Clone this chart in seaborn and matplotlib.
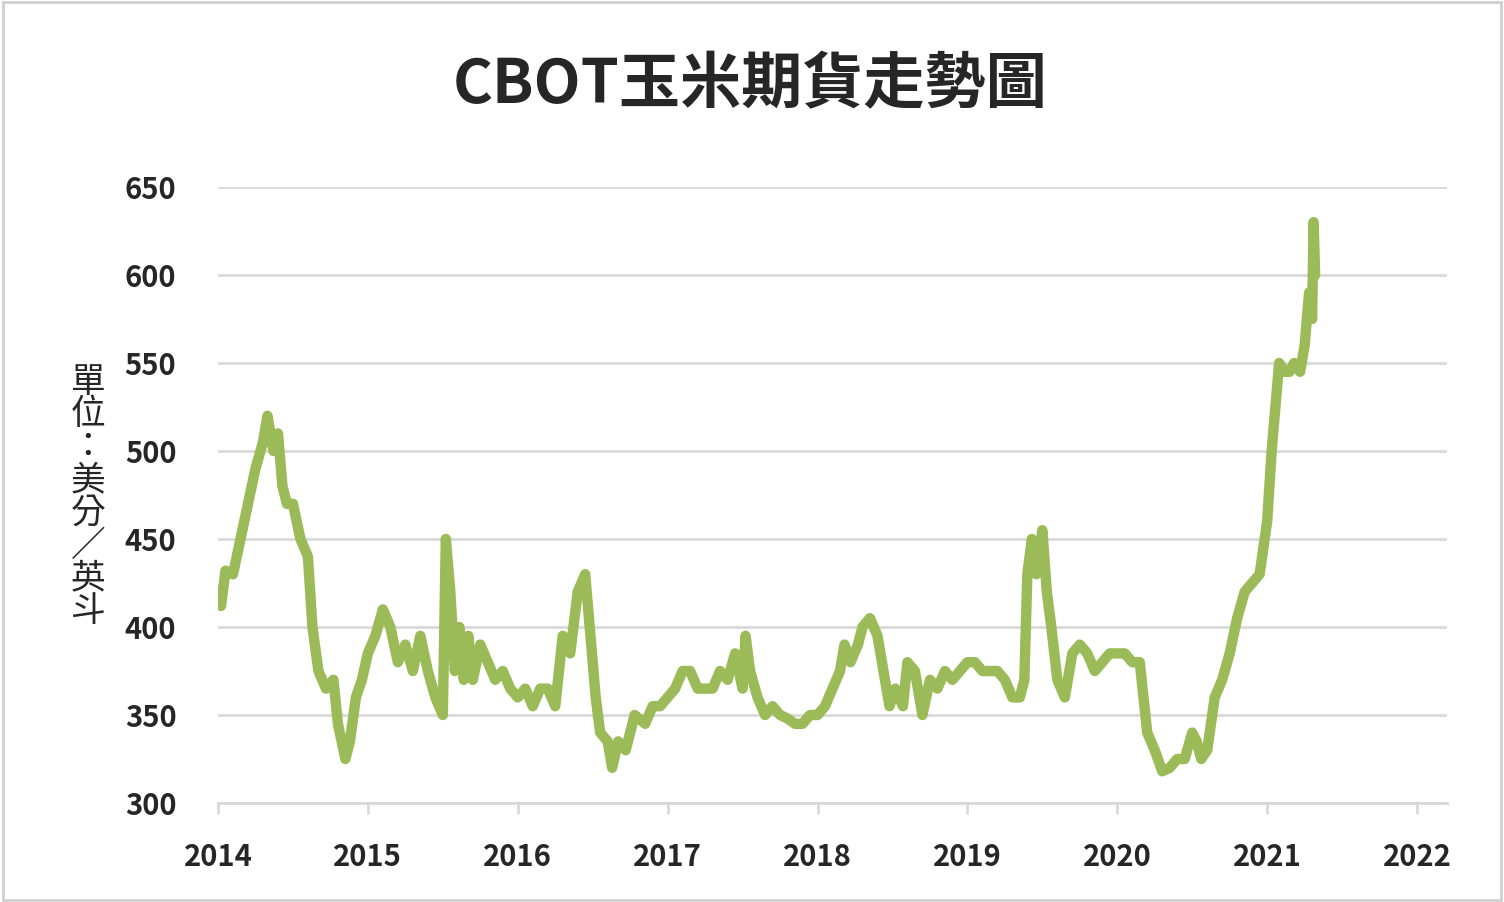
import matplotlib
matplotlib.use("Agg")
import matplotlib.pyplot as plt
import seaborn as sns
import pandas as pd

years = [2014.0,2014.02,2014.05,2014.1,2014.15,2014.2,2014.25,2014.3,2014.33,2014.37,2014.4,2014.43,2014.46,2014.5,2014.55,2014.6,2014.63,2014.67,2014.72,2014.77,2014.8,2014.85,2014.88,2014.92,2014.96,
 2015.0,2015.05,2015.1,2015.15,2015.2,2015.25,2015.3,2015.35,2015.4,2015.45,2015.5,2015.52,2015.55,2015.58,2015.61,2015.64,2015.67,2015.7,2015.75,2015.8,2015.85,2015.9,2015.95,
 2016.0,2016.05,2016.1,2016.15,2016.2,2016.25,2016.3,2016.35,2016.4,2016.45,2016.48,2016.52,2016.55,2016.6,2016.63,2016.67,2016.72,2016.78,2016.85,2016.9,2016.95,
 2017.0,2017.05,2017.1,2017.15,2017.2,2017.25,2017.3,2017.35,2017.4,2017.45,2017.5,2017.52,2017.55,2017.6,2017.65,2017.7,2017.75,2017.8,2017.85,2017.9,2017.95,
 2018.0,2018.05,2018.1,2018.15,2018.18,2018.22,2018.27,2018.3,2018.35,2018.4,2018.45,2018.48,2018.52,2018.57,2018.6,2018.65,2018.7,2018.75,2018.8,2018.85,2018.9,2018.95,
 2019.0,2019.05,2019.1,2019.15,2019.2,2019.25,2019.3,2019.35,2019.38,2019.4,2019.43,2019.46,2019.5,2019.53,2019.56,2019.6,2019.65,2019.7,2019.75,2019.8,2019.85,2019.9,2019.95,
 2020.0,2020.05,2020.1,2020.15,2020.2,2020.25,2020.3,2020.35,2020.4,2020.45,2020.5,2020.53,2020.56,2020.6,2020.65,2020.7,2020.75,2020.8,2020.85,2020.9,2020.95,
 2021.0,2021.03,2021.06,2021.08,2021.12,2021.15,2021.18,2021.22,2021.25,2021.28,2021.3,2021.31,2021.32]
prices = [420,412,432,430,450,470,490,505,520,500,510,480,470,470,450,440,400,375,365,370,345,325,335,360,370,
 385,395,410,400,380,390,375,395,375,360,350,450,420,375,400,370,395,370,390,380,370,375,365,
 360,365,355,365,365,355,395,385,420,430,400,360,340,335,320,335,330,350,345,355,355,
 360,365,375,375,365,365,365,375,370,385,365,395,375,360,350,355,350,348,345,345,350,
 350,355,365,375,390,380,390,400,405,395,370,355,365,355,380,375,350,370,365,375,370,375,
 380,380,375,375,375,370,360,360,370,430,450,430,455,420,400,370,360,385,390,385,375,380,385,
 385,385,380,380,340,330,318,320,325,325,340,335,325,330,360,370,385,405,420,425,430,
 460,500,530,550,545,545,550,545,560,590,575,630,600]
xticks = list(range(2014, 2023))
yticks = list(range(300, 651, 50))

sns.set_style("white")
plt.rcParams['font.family'] = ['Noto Sans CJK TC', 'DejaVu Sans']

fig = plt.figure(figsize=(15.04, 9.02), dpi=100)
ax = fig.add_axes([218/1504, 1-803/902, (1447-218)/1504, (803-187)/902])
df = pd.DataFrame({"year": years, "price": prices})
sns.lineplot(data=df, x="year", y="price", ax=ax, color="#9BBB59", linewidth=7.5,
             solid_joinstyle='round', solid_capstyle='round')
ax.set_xlim(2014, 2022.2)
ax.set_ylim(300, 650)
ax.set_xticks(xticks)
ax.set_xticklabels([str(t) for t in xticks], fontsize=21, fontweight='bold')
ax.set_yticks(yticks)
ax.set_yticklabels([str(t) for t in yticks], fontsize=21, fontweight='bold')
ax.yaxis.grid(True, color="#D9D9D9", linewidth=2)
for s in ["top", "right", "left"]:
    ax.spines[s].set_visible(False)
ax.spines["bottom"].set_color("#D9D9D9")
ax.spines["bottom"].set_linewidth(2)
ax.tick_params(axis='x', length=8, color="#D9D9D9", width=2, pad=20, direction='out', bottom=True)
ax.tick_params(axis='y', length=0, pad=30)
ax.set_xlabel("")
ax.set_ylabel("")
fig.text(88/1504, 1-497/902, "單\n位\n：\n美\n分\n／\n英\n斗", fontsize=25, ha='center', va='center', linespacing=0.92)
fig.text(750/1504, 1-85/902, "CBOT玉米期貨走勢圖", fontsize=44, fontweight='bold', ha='center', va='center')
fig.patches.append(plt.Rectangle((0.002, 0.002), 0.996, 0.996, transform=fig.transFigure, fill=False, edgecolor="#D0D0D0", linewidth=2))
fig.savefig("out.png", dpi=100)
